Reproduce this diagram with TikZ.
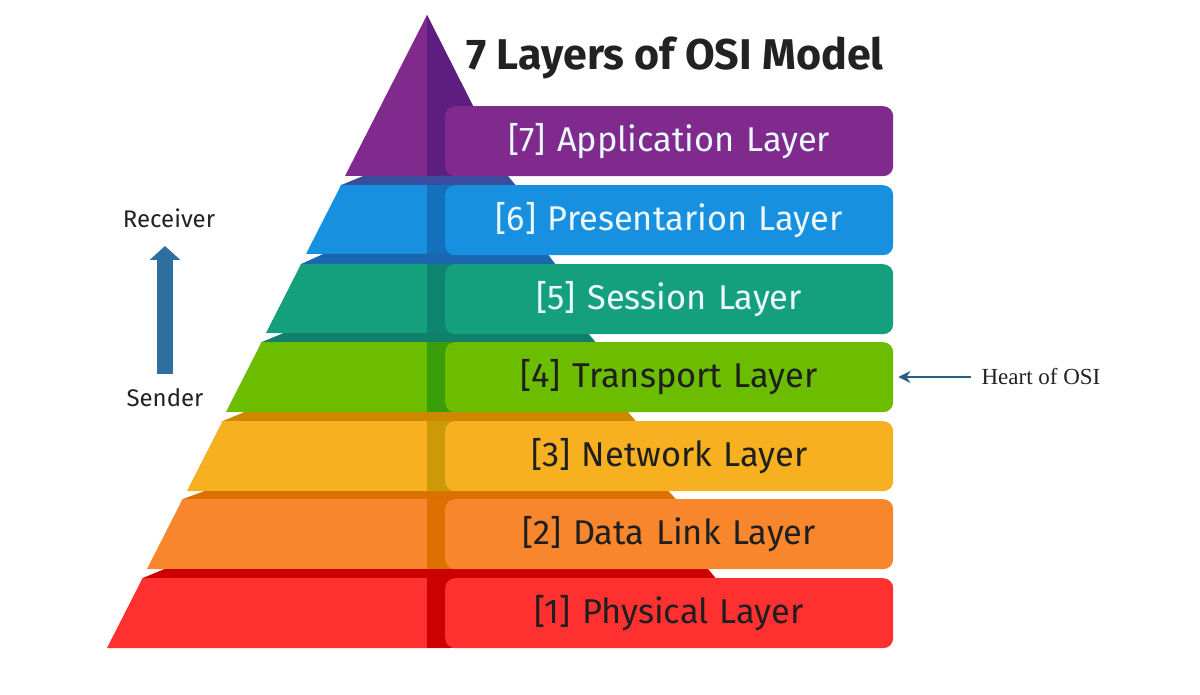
\documentclass[tikz,border=0pt]{standalone}
\usepackage{fontspec}
\usetikzlibrary{arrows.meta}
\setmainfont{Fira Sans}
\newfontfamily\serifl{Liberation Serif}
\definecolor{cP}{HTML}{7F2A8C}\definecolor{dP}{HTML}{5E1E80}\definecolor{sP}{HTML}{3A4C9E}
\definecolor{cB}{HTML}{1890E0}\definecolor{dB}{HTML}{1270BC}\definecolor{sB}{HTML}{1A66B0}
\definecolor{cT}{HTML}{14A07C}\definecolor{dT}{HTML}{0E8570}\definecolor{sT}{HTML}{10806A}
\definecolor{cL}{HTML}{6CBC00}\definecolor{dL}{HTML}{3A9E08}\definecolor{sL}{HTML}{CC8800}
\definecolor{cY}{HTML}{F7B020}\definecolor{dY}{HTML}{CC9A08}\definecolor{sY}{HTML}{D97000}
\definecolor{cO}{HTML}{F7862C}\definecolor{dO}{HTML}{DC7000}\definecolor{sO}{HTML}{CC0000}
\definecolor{cR}{HTML}{FF3030}\definecolor{dR}{HTML}{CC0000}
\definecolor{arrowblue}{HTML}{2F6F9F}
\definecolor{ink}{HTML}{222222}
\tikzset{
  layerbox/.style={rounded corners=10pt,minimum width=448pt,minimum height=70pt,inner sep=0pt,
    anchor=north west,font=\fontsize{34.4}{34.4}\selectfont,text width=448pt,align=center},
  lighttext/.style={text=white!92!cyan},
  darktext/.style={text=black!88},
  sidelabel/.style={font=\fontsize{24}{24}\selectfont,text=ink,inner sep=0pt},
}
\newcommand{\tier}[7]{% ybottom-of-previous, ytop, ybottom, leftbottom, main, dark, strip
  \pgfmathsetmacro{\lt}{#4+0.509*(#3-#2)}
  \pgfmathsetmacro{\rs}{427+0.509*(#1-15)}
  \fill[#7] (\lt+22,#1) -- (\lt-1,#2+.5) -- (\rs+7,#2+.5) -- (\rs-1,#1) -- cycle;
  \fill[#5] (\lt,#2) -- (#4,#3) -- (450,#3) -- (450,#2) -- cycle;
  \fill[#6] (427,#1) rectangle (460,#3);
  \fill[#7] (427,#1) rectangle (460,#2);
}
\begin{document}
\begin{tikzpicture}[x=1pt,y=-1pt]
\fill[white] (0,0) rectangle (1200,695);
\useasboundingbox (0,0) rectangle (1200,695);
% apex
\fill[cP] (427,15) -- (345,176) -- (440,176) -- (440,106) -- (473,106) -- cycle;
\fill[dP] (427,15) -- (427,176) -- (460,176) -- (460,106) -- (473,106) -- cycle;
\tier{176}{185}{254}{306}{cB}{dB}{sP}
\tier{254}{264}{333}{266}{cT}{dT}{sB}
\tier{333}{342}{412}{226}{cL}{dL}{sT}
\tier{412}{421}{491}{187}{cY}{dY}{sL}
\tier{491}{499}{569}{147}{cO}{dO}{sY}
\tier{569}{578}{648}{107}{cR}{dR}{sO}
% boxes
\node[layerbox,fill=cP,lighttext] (l7) at (445,106) {[7] Application Layer};
\node[layerbox,fill=cB,lighttext] (l6) at (445,185) {[6] Presentarion Layer};
\node[layerbox,fill=cT,lighttext] (l5) at (445,264) {[5] Session Layer};
\node[layerbox,fill=cL,darktext] (l4) at (445,342) {[4] Transport Layer};
\node[layerbox,fill=cY,darktext] (l3) at (445,421) {[3] Network Layer};
\node[layerbox,fill=cO,darktext] (l2) at (445,499) {[2] Data Link Layer};
\node[layerbox,fill=cR,darktext] (l1) at (445,578) {[1] Physical Layer};
% title
\node[inner sep=0pt,font=\fontsize{43}{43}\selectfont\bfseries,text=ink] (title) at (675,58) {7 Layers of OSI Model};
% side labels
\node[sidelabel] (recv) at (169,218) {Receiver};
\node[sidelabel] (send) at (165,398) {Sender};
\coordinate (flowtail) at (165,374);
\coordinate (flowhead) at (165,246);
\draw[arrowblue,line width=16pt,-{Triangle[length=14pt,width=30pt]}] (flowtail) -- (flowhead);
\node[inner sep=0pt,font=\serifl\fontsize{23}{23}\selectfont,text=ink] (heart) at (1041,377) {Heart of OSI};
\draw[arrowblue!85!black,line width=1.5pt,-{Stealth[length=12pt,width=12pt]},shorten <=10pt,shorten >=5pt] (heart.west) -- (l4.east |- heart.west);
\end{tikzpicture}
\end{document}
